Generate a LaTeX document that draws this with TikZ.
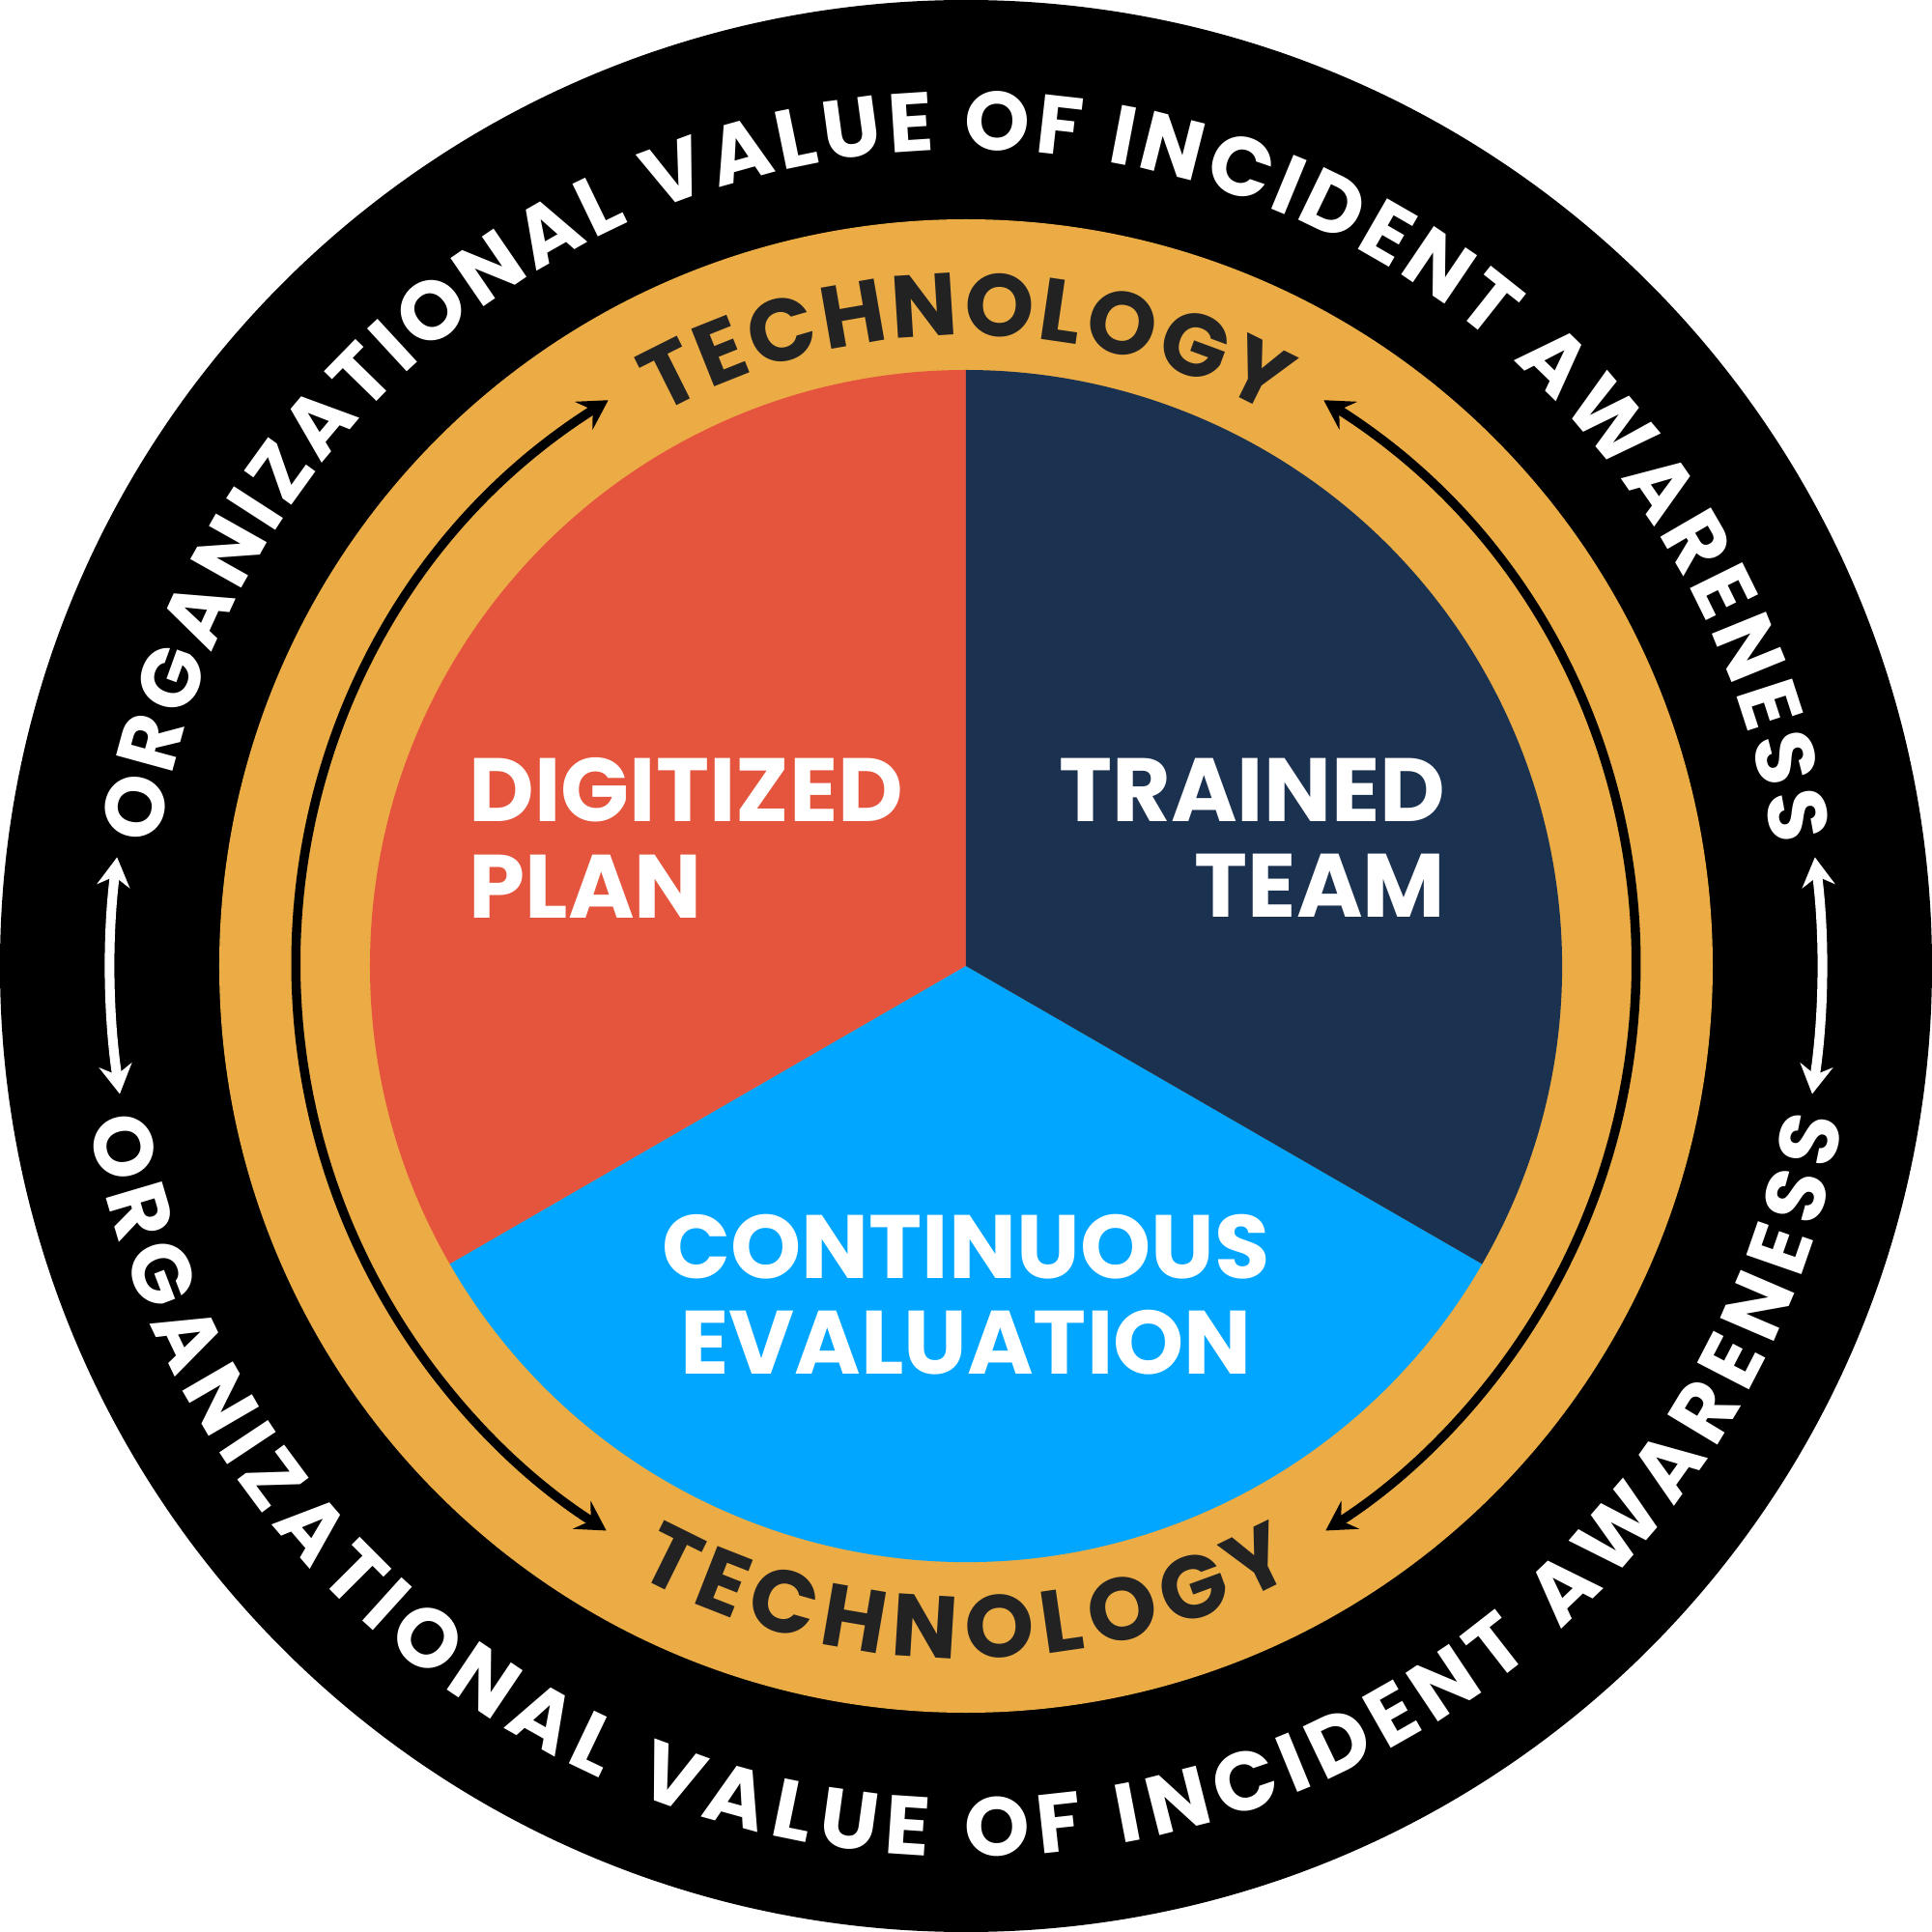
\documentclass[tikz,border=0pt]{standalone}
\usepackage{fontspec}
\setmainfont{Poppins}
\usepackage{tikz}
\usetikzlibrary{decorations.text}
\usetikzlibrary{arrows.meta}

\definecolor{ringorange}{HTML}{EBAB45}
\definecolor{planred}{HTML}{E5553D}
\definecolor{teamnavy}{HTML}{1B3150}
\definecolor{evalblue}{HTML}{00A6FF}
\definecolor{techgray}{HTML}{222222}

\newcommand{\ringfont}{\bfseries\fontsize{24.5}{24.5}\selectfont}
\newcommand{\techfont}{\bfseries\fontsize{26}{26}\selectfont}

\tikzset{
    pietext/.style={text=white, inner sep=0pt, font=\bfseries\fontsize{26.5}{28.4}\selectfont},
    cyclearrow/.style={line width=2.7pt, draw=black,
        {Stealth[length=0.3cm,width=0.34cm,inset=0.11cm]}-{Stealth[length=0.3cm,width=0.34cm,inset=0.11cm]}},
    awarearrow/.style={line width=0.1cm, draw=white,
        {Stealth[length=0.3cm,width=0.34cm,inset=0.1cm]}-{Stealth[length=0.3cm,width=0.34cm,inset=0.1cm]}},
}

\begin{document}
\begin{tikzpicture}
                \useasboundingbox (-10,-10) rectangle (10,10);
                \coordinate (O) at (0,0);

                \fill[black] (O) circle[radius=10];
                \fill[ringorange] (O) circle[radius=7.73];
                \fill[planred] (O) -- (90:6.17) arc[start angle=90, end angle=210, radius=6.17] -- cycle;
                \fill[evalblue] (O) -- (210:6.17) arc[start angle=210, end angle=330, radius=6.17] -- cycle;
                \fill[teamnavy] (O) -- (330:6.17) arc[start angle=330, end angle=450, radius=6.17] -- cycle;

                \node[pietext, anchor=north west, align=left] (plan) at (-5.15,2.16) {DIGITIZED\\PLAN};
                \node[pietext, anchor=north east, align=right] (team) at (4.97,2.16) {TRAINED\\TEAM};
                \node[pietext, anchor=north, align=center] (evaluation) at (0,-2.56) {CONTINUOUS\\EVALUATION};

                \draw[cyclearrow] (122.3:6.93) arc[start angle=122.3, end angle=237.5, radius=6.93];
                \draw[cyclearrow] (57.7:6.93) arc[start angle=57.7, end angle=-57.5, radius=6.93];
                \draw[awarearrow] (172.7:8.86) arc[start angle=172.7, end angle=188.6, radius=8.86];
                \draw[awarearrow] (7.3:8.86) arc[start angle=7.3, end angle=-8.6, radius=8.86];

                \path[decorate, decoration={text along path, text color=techgray, text align={fit to path},
                    text={|\techfont|TECHNOLOGY}}]
                    (119:6.53) arc[start angle=119, end angle=61, radius=6.53];
                \path[decorate, decoration={text along path, text color=techgray, text align={fit to path},
                    text={|\techfont|TECHNOLOGY}}]
                    (241.5:7.17) arc[start angle=241.5, end angle=298.5, radius=7.17];

                \path[decorate, decoration={text along path, text color=white, text align={fit to path},
                    text={|\ringfont|ORGANIZATIONAL VALUE OF INCIDENT AWARENESS}}]
                    (171.5:8.45) arc[start angle=171.5, end angle=8.5, radius=8.45];
                \path[decorate, decoration={text along path, text color=white, text align={fit to path},
                    text={|\ringfont|ORGANIZATIONAL VALUE OF INCIDENT AWARENESS}}]
                    (190:9.22) arc[start angle=190, end angle=350, radius=9.22];
\end{tikzpicture}
\end{document}
